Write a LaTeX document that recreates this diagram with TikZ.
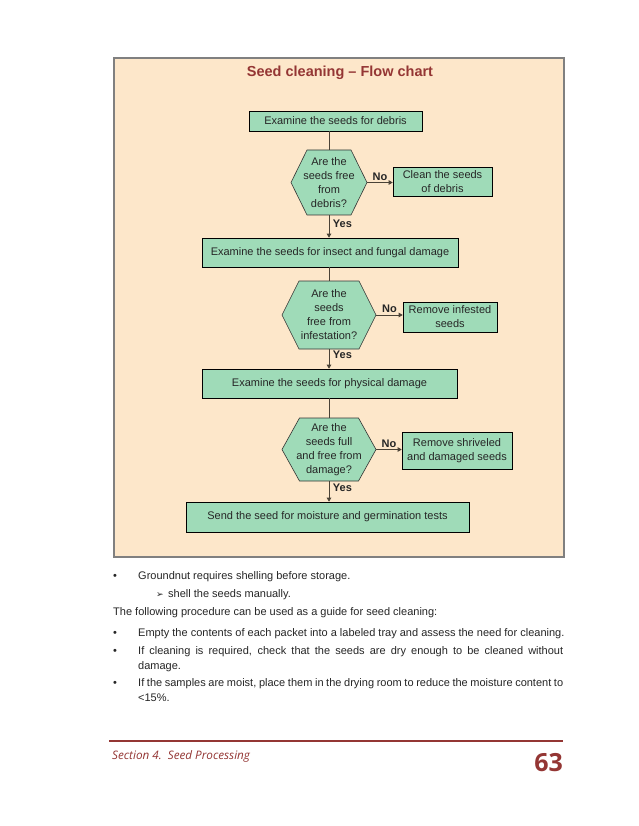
\documentclass[tikz,border=0pt]{standalone}
\usepackage{fontspec}
\setmainfont{Liberation Sans}
\newfontfamily\dejavu{DejaVu Sans}
\newfontfamily\opensans{Open Sans}
\usetikzlibrary{calc,arrows.meta}
\definecolor{peach}{HTML}{FDE7CA}
\definecolor{mint}{HTML}{9FDBB8}
\definecolor{darkred}{HTML}{943634}
\definecolor{linec}{HTML}{4A4236}
\definecolor{framec}{HTML}{808080}
\definecolor{txtc}{HTML}{262626}
\begin{document}
\begin{tikzpicture}[x=1pt,y=-1pt,
  box/.style 2 args={draw=black, fill=mint, line width=0.6pt, inner sep=0pt,
    minimum width=#1, minimum height=#2, align=center, text=txtc,
    font=\fontsize{11}{14}\selectfont},
  hex/.style 2 args={draw=none, inner sep=0pt, minimum width=#1, minimum height=#2,
    align=center, text=txtc, font=\fontsize{11}{14}\selectfont},
  hexline/.style={draw=black!80, fill=mint, line width=0.6pt},
  ln/.style={draw=linec, line width=0.8pt},
  arr/.style={draw=linec, line width=0.8pt, -{Triangle[length=4pt,width=4.5pt]}},
  lab/.style={font=\bfseries\fontsize{11}{12}\selectfont, text=txtc, inner sep=0pt},
  txt/.style={anchor=west, inner sep=0pt, text height=7.7pt, text depth=2.2pt, text=txtc,
    font=\fontsize{11}{13}\selectfont},
  bul/.style={inner sep=0pt, text=txtc, font=\fontsize{11}{12}\selectfont}
]
\useasboundingbox (0,0) rectangle (638,826);
\fill[white] (0,0) rectangle (638,826);
% frame
\draw[framec, line width=1.3pt, fill=peach] (114,58) rectangle (564,557);
\node[font=\bfseries\fontsize{14.5}{16}\selectfont, text=darkred] (title) at (340,72.5) {Seed cleaning -- Flow chart};

% boxes
\node[box={173pt}{20pt}] (b1) at (335.5,121) {Examine the seeds for debris};
\node[box={99pt}{29pt}] (c1) at (442.5,181.5) {Clean the seeds\\of debris};
\node[box={256pt}{29pt}] (b2) at (330,252.5) {Examine the seeds for insect and fungal damage};
\node[box={94pt}{30pt}] (c2) at (450,317) {Remove infested\\seeds};
\node[box={255pt}{29pt}] (b3) at (329.5,383.5) {Examine the seeds for physical damage};
\node[box={110pt}{37pt}] (c3) at (457,450.5) {Remove shriveled\\and damaged seeds};
\node[box={283pt}{30pt}] (b4) at (327.5,517) {Send the seed for moisture and germination tests};

% hexagons
\coordinate (h1c) at (329,182.5);
\draw[hexline] ($(h1c)+(-38,0)$) -- ($(h1c)+(-22,-32.5)$) -- ($(h1c)+(22,-32.5)$) -- ($(h1c)+(38,0)$) -- ($(h1c)+(22,32.5)$) -- ($(h1c)+(-22,32.5)$) -- cycle;
\node[hex={76pt}{65pt}] (h1) at (h1c) {Are the\\seeds free\\from\\debris?};

\coordinate (h2c) at (329,315);
\draw[hexline] ($(h2c)+(-47,0)$) -- ($(h2c)+(-30,-34)$) -- ($(h2c)+(30,-34)$) -- ($(h2c)+(47,0)$) -- ($(h2c)+(30,34)$) -- ($(h2c)+(-30,34)$) -- cycle;
\node[hex={94pt}{68pt}] (h2) at (h2c) {Are the\\seeds\\free from\\infestation?};

\coordinate (h3c) at (329,449.5);
\draw[hexline] ($(h3c)+(-47,0)$) -- ($(h3c)+(-29.5,-31.5)$) -- ($(h3c)+(29.5,-31.5)$) -- ($(h3c)+(47,0)$) -- ($(h3c)+(29.5,31.5)$) -- ($(h3c)+(-29.5,31.5)$) -- cycle;
\node[hex={94pt}{63pt}] (h3) at (h3c) {Are the\\seeds full\\and free from\\damage?};

% connectors
\draw[ln] (b1.south -| h1.north) -- (h1.north);
\draw[arr] (h1.east) -- (h1.east -| c1.west) node[lab, midway, yshift=6pt] {No};
\draw[arr] (h1.south) -- (h1.south |- b2.north) node[lab, pos=0.4, anchor=west, xshift=3.5pt] {Yes};
\draw[ln] (b2.south -| h2.north) -- (h2.north);
\draw[arr] (h2.east) -- (h2.east -| c2.west) node[lab, midway, yshift=6pt] {No};
\draw[arr] (h2.south) -- (h2.south |- b3.north) node[lab, pos=0.3, anchor=west, xshift=3.5pt] {Yes};
\draw[ln] (b3.south -| h3.north) -- (h3.north);
\draw[arr] (h3.east) -- (h3.east -| c3.west) node[lab, midway, yshift=6pt] {No};
\draw[arr] (h3.south) -- (h3.south |- b4.north) node[lab, pos=0.33, anchor=west, xshift=3.5pt] {Yes};

% text below
\node[bul] (u1) at (115,577) {\textbullet};
\node[txt] (t1) at (138,577) {Groundnut requires shelling before storage.};
\node[bul, font=\dejavu\fontsize{9}{10}\selectfont] (u2) at (160,595) {➢};
\node[txt] (t2) at (168,595) {shell the seeds manually.};
\node[txt] (t3) at (113,613) {The following procedure can be used as a guide for seed cleaning:};
\node[bul] (u4) at (115,634) {\textbullet};
\node[txt] (t4) at (138,634) {Empty the contents of each packet into a labeled tray and assess the need for cleaning.};
\node[bul] (u5) at (115,652) {\textbullet};
\node[txt] (t5) at (138,652) {\makebox[425pt][s]{If cleaning is required, check that the seeds are dry enough to be cleaned without}};
\node[txt] (t6) at (138,667) {damage.};
\node[bul] (u7) at (115,684) {\textbullet};
\node[txt] (t7) at (138,684) {\makebox[425pt][s]{If the samples are moist, place them in the drying room to reduce the moisture content to}};
\node[txt] (t8) at (138,699) {<15\%.};

% footer
\draw[darkred, line width=1.3pt] (109,741) -- (563,741);
\node[anchor=west, inner sep=0pt, text=darkred, font=\opensans\itshape\fontsize{11.7}{13}\selectfont] (sec) at (112,756) {Section 4.\ \ Seed Processing};
\node[anchor=east, inner sep=0pt, text=darkred, font=\opensans\bfseries\fontsize{25}{27}\selectfont] (pg) at (563,763) {63};
\end{tikzpicture}
\end{document}
